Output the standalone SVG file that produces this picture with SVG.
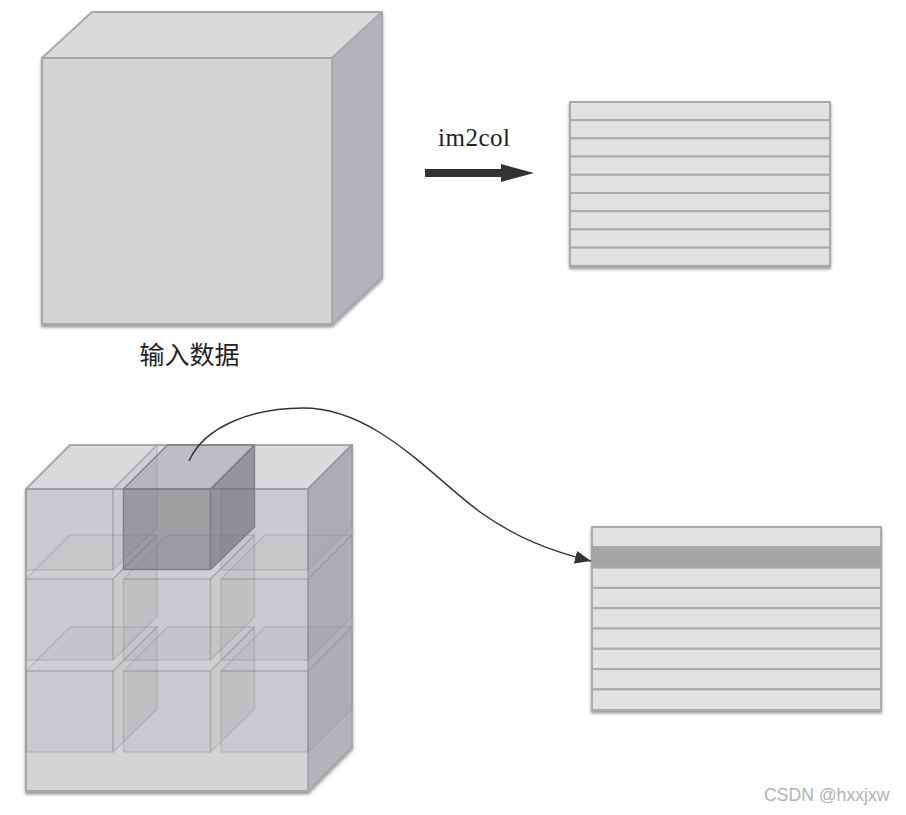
<svg xmlns="http://www.w3.org/2000/svg" width="906" height="815" viewBox="0 0 906 815">
<style>
.edge{stroke:#a8a9ab;stroke-width:2;stroke-linejoin:round}
.front{fill:#d3d4d6}.top{fill:#d9dadc}.side{fill:#b3b4b7}
.cell{stroke:#8f9094;stroke-opacity:.36;stroke-width:1.4;stroke-linejoin:round}
.cf{fill:#8c8e92;fill-opacity:.13}
.cs{fill:#8c8e95;fill-opacity:.14}
.ct{fill:#8c8e92;fill-opacity:.07}
.hl{stroke:#808185;stroke-width:1.4;stroke-linejoin:round}
.row{fill:#e2e2e4;stroke:#a9aaac;stroke-width:2}
.lbl{font-family:"Liberation Serif","Noto Sans CJK SC",serif;fill:#222}
</style>
<defs>
<filter id="sh" x="-5%" y="-5%" width="110%" height="110%"><feDropShadow dx="0" dy="2.500" stdDeviation="1.800" flood-color="#555" flood-opacity=".6"/></filter>
<marker id="ah" markerUnits="userSpaceOnUse" markerWidth="17" markerHeight="14" refX="16" refY="6.5" orient="auto"><path d="M0,0L16,6.5L0,13Z" fill="#333"/></marker>
<g id="c"><path class="cell ct" d="M0,0L44,-44H131L87,0Z"/><rect class="cell cf" width="87" height="81"/><path class="cell cs" d="M87,0L131,-44V38L87,81Z"/></g>
<g id="ctop"><path class="cell" fill="none" d="M87,0L131,-44"/><rect class="cell cf" width="87" height="81"/><path class="cell cs" d="M87,0L131,-44V38L87,81Z"/></g>
</defs>

<g id="input-cube" filter="url(#sh)">
<path class="edge top" d="M42,58L92,12H382L332,58Z"/>
<path class="edge side" d="M332,58L382,12V277L332,324Z"/>
<rect class="edge front" x="42" y="58" width="290" height="266"/>
</g>
<g id="input-label"><text class="lbl" x="189.500" y="364" font-size="25" text-anchor="middle">输入数据</text></g>

<g id="im2col-label"><text class="lbl" x="438" y="146" font-size="25" textLength="72" lengthAdjust="spacing">im2col</text></g>

<g id="table-top" filter="url(#sh)">
<rect class="row" x="570" y="102" width="260" height="18.200"/>
<rect class="row" x="570" y="120.200" width="260" height="18.200"/>
<rect class="row" x="570" y="138.400" width="260" height="18.200"/>
<rect class="row" x="570" y="156.600" width="260" height="18.200"/>
<rect class="row" x="570" y="174.800" width="260" height="18.200"/>
<rect class="row" x="570" y="193" width="260" height="18.200"/>
<rect class="row" x="570" y="211.200" width="260" height="18.200"/>
<rect class="row" x="570" y="229.400" width="260" height="18.200"/>
<rect class="row" x="570" y="247.600" width="260" height="18.200"/>
</g>

<g id="grid-cube">
<g filter="url(#sh)">
<path class="edge top" d="M26,489L70,445H352L308,489Z"/>
<path class="edge side" d="M308,489L352,445V747L308,791Z"/>
<rect class="edge front" x="26" y="489" width="282" height="302"/>
</g>
<use href="#c" x="26" y="579"/><use href="#c" x="123.500" y="579"/><use href="#c" x="221" y="579"/>
<use href="#c" x="26" y="671"/><use href="#c" x="123.500" y="671"/><use href="#c" x="221" y="671"/>
<use href="#ctop" x="26" y="489"/><use href="#ctop" x="221" y="489"/>
</g>
<g id="selected-cell">
<path class="hl" fill="#7d7e83" fill-opacity=".3" d="M123.500,489L167.500,445H254.500L210.500,489Z"/>
<rect class="hl" x="123.500" y="489" width="87" height="80.500" fill="#717276" fill-opacity=".55"/>
<path class="hl" fill="#66676c" fill-opacity=".6" d="M210.500,489L254.500,445V527L210.500,569.500Z"/>
</g>

<g id="table-bottom" filter="url(#sh)">
<rect class="row" x="592" y="527" width="289" height="20.300"/>
<rect class="row" x="592" y="547.300" width="289" height="20.300" style="fill:#a4a5a7;stroke:#a4a5a7"/>
<rect class="row" x="592" y="567.600" width="289" height="20.300"/>
<rect class="row" x="592" y="587.900" width="289" height="20.300"/>
<rect class="row" x="592" y="608.200" width="289" height="20.300"/>
<rect class="row" x="592" y="628.500" width="289" height="20.300"/>
<rect class="row" x="592" y="648.800" width="289" height="20.300"/>
<rect class="row" x="592" y="669.100" width="289" height="20.300"/>
<rect class="row" x="592" y="689.400" width="289" height="20.600"/>
</g>

<g id="connectors">
<path d="M425,173H502" stroke="#333" stroke-width="8" fill="none"/>
<path d="M501,164L534,173L501,182Z" fill="#333"/>
<path d="M189,461C205,425 255,408 303,408C375,408 430,475 480,512C515,537 550,551 591,561" fill="none" stroke="#333" stroke-width="1.400" marker-end="url(#ah)"/>
</g>

<g id="watermark"><text x="764" y="801" font-family="'Liberation Sans',sans-serif" font-size="17.600" fill="#b3b3b3">CSDN @hxxjxw</text></g>
</svg>
